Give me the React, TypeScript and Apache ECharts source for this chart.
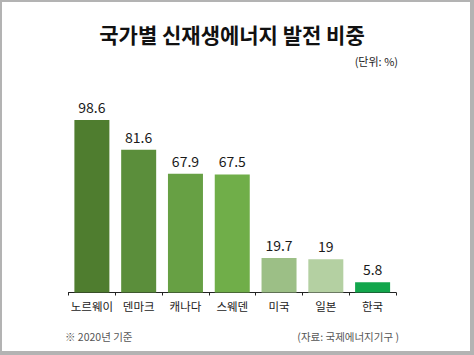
import React, { useEffect, useRef } from "react";
import * as echarts from "echarts";

const categories = ["노르웨이", "덴마크", "캐나다", "스웨덴", "미국", "일본", "한국"];
const values = [98.6, 81.6, 67.9, 67.5, 19.7, 19, 5.8];
const barColors = ["#4f7d2f", "#5b8e3b", "#67a044", "#70ae49", "#9cbf86", "#b4d0a2", "#12a64c"];
const valueLabels = ["98.6", "81.6", "67.9", "67.5", "19.7", "19", "5.8"];

const titleText = "국가별 신재생에너지 발전 비중";
const unitText = "(단위: %)";
const noteText = "※ 2020년 기준";
const sourceText = "(자료: 국제에너지기구 )";

const FONT = "'Noto Sans CJK KR', 'Noto Sans', sans-serif";

export default function App() {
  const ref = useRef<HTMLDivElement>(null);
  useEffect(() => {
    if (!ref.current) return;
    const chart = echarts.init(ref.current, undefined, { renderer: "svg" });
    chart.setOption({
      animation: false,
      textStyle: { fontFamily: FONT },
      grid: { left: 68.5, right: 78, top: 117.5, bottom: 62.5, containLabel: false },
      xAxis: {
        type: "category",
        data: categories,
        axisLine: { lineStyle: { color: "#222", width: 1 } },
        axisTick: { show: true, length: 3, lineStyle: { color: "#222" } },
        axisLabel: { color: "#222", fontSize: 11.5, margin: 8, interval: 0, fontFamily: FONT },
      },
      yAxis: {
        type: "value",
        min: 0,
        max: 100,
        show: false,
        splitLine: { show: false },
      },
      series: [
        {
          type: "bar",
          barWidth: 35,
          data: values.map((v, i) => ({ value: v, itemStyle: { color: barColors[i] } })),
          label: {
            show: true,
            position: "top",
            distance: 6,
            color: "#1a1a1a",
            fontSize: 14,
            fontFamily: FONT,
            formatter: (p: any) => valueLabels[p.dataIndex],
          },
        },
      ],
      graphic: [
        {
          type: "text",
          x: 232,
          y: 34,
          style: {
            text: titleText,
            fontSize: 21,
            fontWeight: "bold",
            fill: "#111",
            fontFamily: FONT,
            textAlign: "center",
            textVerticalAlign: "middle",
          },
        },
        {
          type: "text",
          x: 398,
          y: 61,
          style: {
            text: unitText,
            fontSize: 11,
            fill: "#222",
            fontFamily: FONT,
            textAlign: "right",
            textVerticalAlign: "middle",
          },
        },
        {
          type: "text",
          x: 65,
          y: 336.5,
          style: {
            text: noteText,
            fontSize: 10.5,
            fill: "#555",
            fontFamily: FONT,
            textAlign: "left",
            textVerticalAlign: "middle",
          },
        },
        {
          type: "text",
          x: 399,
          y: 336.5,
          style: {
            text: sourceText,
            fontSize: 10.5,
            fill: "#555",
            fontFamily: FONT,
            textAlign: "right",
            textVerticalAlign: "middle",
          },
        },
      ],
    });
    return () => chart.dispose();
  }, []);
  return (
    <div style={{ position: "absolute", left: 0, top: 0, width: 474, height: 355, background: "#b3b3b3" }}>
      <div style={{ position: "absolute", left: 2, top: 2, width: 468, height: 349, background: "#ffffff" }} />
      <div ref={ref} style={{ position: "absolute", left: 0, top: 0, width: 474, height: 355 }} />
    </div>
  );
}
